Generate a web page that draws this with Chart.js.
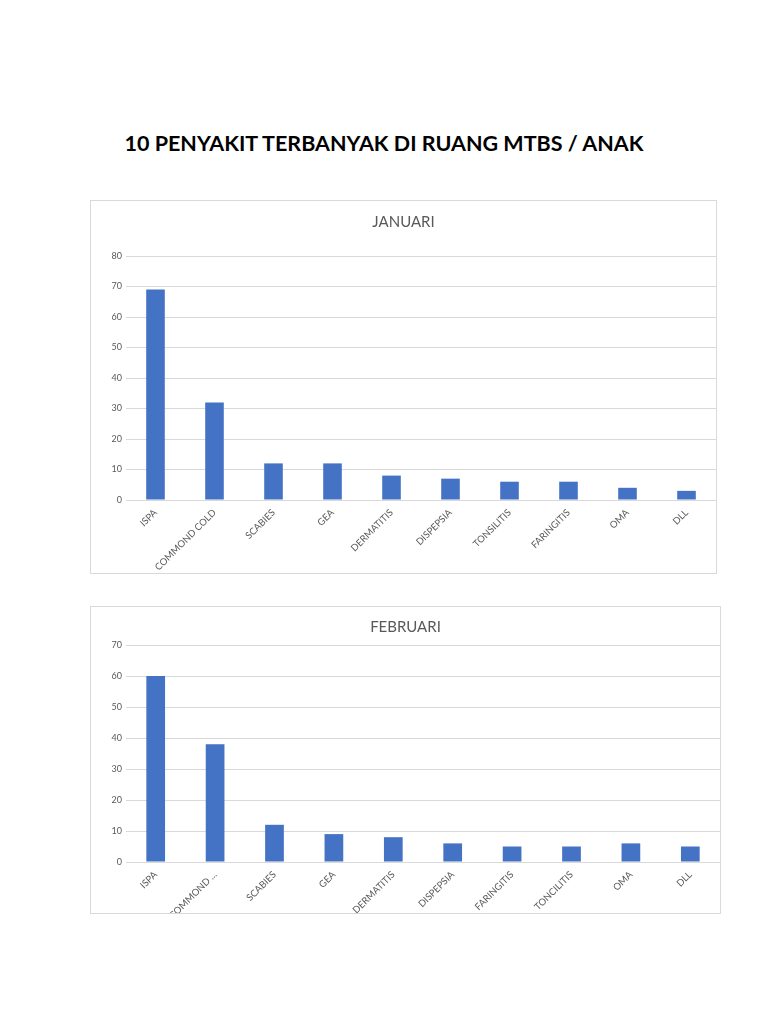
<!DOCTYPE html>
<html>
<head>
<meta charset="utf-8">
<script src="https://cdn.jsdelivr.net/npm/chart.js@4.4.1/dist/chart.umd.min.js"></script>
<style>
  body { margin: 0; background: #fff; width: 768px; height: 1024px; position: relative; font-family: Lato, sans-serif; }
  h1 { position: absolute; left: 0; width: 768px; top: 130px; margin: 0; text-align: center; font: bold 21.5px Lato, sans-serif; color: #000; }
  .box { position: absolute; border: 1px solid #d9d9d9; box-sizing: border-box; }
  .box canvas { position: absolute; left: 0; top: 0; }
</style>
</head>
<body>
<h1>10 PENYAKIT TERBANYAK DI RUANG MTBS / ANAK</h1>
<div class="box" id="box1" style="left:90px;top:200px;width:627px;height:374px;"><canvas id="janChart" width="625" height="372"></canvas></div>
<div class="box" id="box2" style="left:90px;top:606px;width:631px;height:308px;"><canvas id="febChart" width="629" height="306"></canvas></div>
<script>
// data
const janLabels = ['ISPA', 'COMMOND COLD', 'SCABIES', 'GEA', 'DERMATITIS', 'DISPEPSIA', 'TONSILITIS', 'FARINGITIS', 'OMA', 'DLL']
const janValues = [69, 32, 12, 12, 8, 7, 6, 6, 4, 3]
const febLabels = ['ISPA', 'COMMOND ...', 'SCABIES', 'GEA', 'DERMATITIS', 'DISPEPSIA', 'FARINGITIS', 'TONCILITIS', 'OMA', 'DLL']
const febValues = [60, 38, 12, 9, 8, 6, 5, 5, 6, 5]

const textGray = '#595959'
const gridGray = '#d9d9d9'
const barBlue = '#4472c4'

Chart.defaults.font.family = 'Lato, sans-serif'
Chart.defaults.color = textGray
Chart.defaults.animation = false

function makeChart(canvasId, title, labels, values, yMax, titlePad, xHeight) {
  const ctx = document.getElementById(canvasId).getContext('2d')
  return new Chart(ctx, {
    type: 'bar',
    data: {
      labels: labels,
      datasets: [{
        data: values,
        backgroundColor: barBlue,
        borderWidth: 0,
        barPercentage: 1,
        categoryPercentage: 0.315
      }]
    },
    options: {
      responsive: false,
      layout: { padding: 0 },
      plugins: {
        legend: { display: false },
        tooltip: { enabled: false },
        title: {
          display: true,
          text: title,
          color: textGray,
          font: { size: 15, weight: 'normal' },
          padding: titlePad
        }
      },
      scales: {
        x: {
          grid: { display: false },
          border: { color: gridGray, width: 1 },
          ticks: { maxRotation: 45, minRotation: 45, autoSkip: false, font: { size: 9.5 }, color: textGray, padding: -1 },
          afterFit: s => { s.height = xHeight }
        },
        y: {
          min: 0,
          max: yMax,
          grid: { color: gridGray, drawTicks: false },
          border: { display: false },
          ticks: { stepSize: 10, font: { size: 9 }, color: textGray, padding: 4 },
          afterFit: s => { s.width = 35 }
        }
      }
    }
  })
}

// title padding chosen so the plot top lands on the reference gridline
makeChart('janChart', 'JANUARI', janLabels, janValues, 80, { top: 12, bottom: 25 }, 73)
makeChart('febChart', 'FEBRUARI', febLabels, febValues, 70, { top: 11, bottom: 9 }, 51)
</script>
</body>
</html>
